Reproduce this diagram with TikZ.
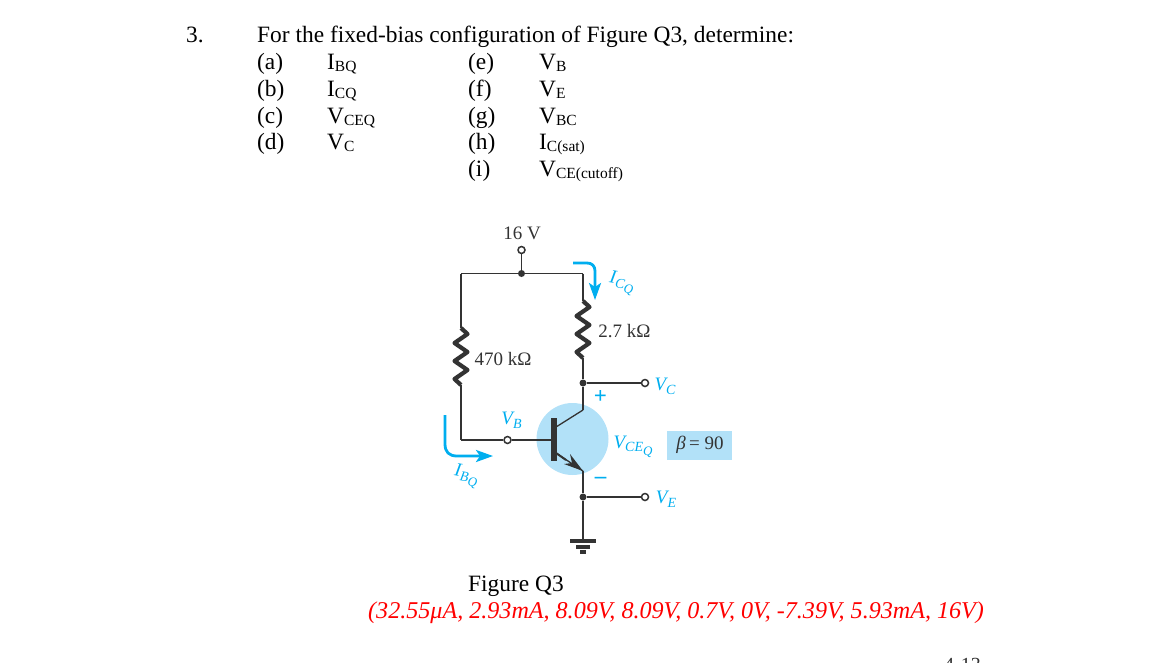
\documentclass[tikz,border=0pt]{standalone}
\usepackage{fontspec}
\setmainfont{Liberation Serif}
\usetikzlibrary{arrows.meta}
\definecolor{wirecol}{HTML}{333333}
\definecolor{cyancol}{HTML}{00AEEF}
\definecolor{tintcol}{HTML}{B2E1F8}
\newcommand{\bigsub}[2]{{\fontsize{23.4}{26}\selectfont #1\raisebox{-2.4pt}{\fontsize{15.5}{17}\selectfont #2}}}
\newcommand{\lblsub}[2]{\textit{#1\raisebox{-3.5pt}{\fontsize{14}{16}\selectfont #2}}}
\newcommand{\lblsubsub}[3]{\textit{#1\raisebox{-3.5pt}{\fontsize{14}{16}\selectfont #2\raisebox{-3.5pt}{\fontsize{13}{15}\selectfont #3}}}}
\tikzset{
  wire/.style={draw=wirecol,line width=1.3pt},
  resline/.style={draw=wirecol,line width=4.2pt,line join=round},
  basebar/.style={fill=wirecol,draw=none},
  dotnode/.style={circle,fill=wirecol,inner sep=0pt,minimum size=7pt},
  termnode/.style={circle,draw=wirecol,fill=white,line width=1.5pt,inner sep=0pt,minimum size=7pt},
  hwtext/.style={anchor=base west,inner sep=0pt,font=\fontsize{23.4}{26}\selectfont},
  circtext/.style={inner sep=0pt,text=wirecol,font=\fontsize{19}{21}\selectfont},
  bluetext/.style={inner sep=0pt,text=cyancol,font=\fontsize{19}{21}\selectfont},
  curarrow/.style={draw=cyancol,line width=2.8pt,-{Stealth[length=17pt,width=12pt,inset=4pt]}}
}
\begin{document}
\begin{tikzpicture}[x=1pt,y=-1pt]
  \useasboundingbox (0,0) rectangle (1170,662);
  \node[hwtext] (qnum) at (186,42) {3.};
  \node[hwtext] (qhead) at (257,42) {For the fixed-bias configuration of Figure Q3, determine:};
  \node[hwtext] (parta) at (257,69.5) {(a)};
  \node[hwtext] (partb) at (257,96.5) {(b)};
  \node[hwtext] (partc) at (257,123.5) {(c)};
  \node[hwtext] (partd) at (257,149.5) {(d)};
  \node[hwtext] (vala) at (327,69.5) {\bigsub{I}{BQ}};
  \node[hwtext] (valb) at (327,96.5) {\bigsub{I}{CQ}};
  \node[hwtext] (valc) at (327,123.5) {\bigsub{V}{CEQ}};
  \node[hwtext] (vald) at (327,149.5) {\bigsub{V}{C}};
  \node[hwtext] (parte) at (468,69.5) {(e)};
  \node[hwtext] (partf) at (468,96.5) {(f)};
  \node[hwtext] (partg) at (468,123.5) {(g)};
  \node[hwtext] (parth) at (468,149.5) {(h)};
  \node[hwtext] (parti) at (468,176.5) {(i)};
  \node[hwtext] (vale) at (539,69.5) {\bigsub{V}{B}};
  \node[hwtext] (valf) at (539,96.5) {\bigsub{V}{E}};
  \node[hwtext] (valg) at (539,123.5) {\bigsub{V}{BC}};
  \node[hwtext] (valh) at (539,149.5) {\bigsub{I}{C(sat)}};
  \node[hwtext] (vali) at (539,176.5) {\bigsub{V}{CE(cutoff)}};

  \node[circle,fill=tintcol,minimum size=72pt,inner sep=0pt] (tcircle) at (572.5,439) {};
  \node[fill=tintcol,minimum width=65pt,minimum height=29pt,inner sep=0pt] (betabox) at (699.5,445.5) {};

  \node[termnode] (vcc) at (521.5,250) {};
  \node[dotnode] (jtop) at (521.5,273.5) {};
  \coordinate (tleft) at (461,273.5);
  \coordinate (tright) at (583,273.5);
  \coordinate (rbtop) at (461,328);
  \coordinate (rbbot) at (461,385);
  \coordinate (rctop) at (583,301);
  \coordinate (rcbot) at (583,358);
  \node[dotnode] (jc) at (583,383) {};
  \node[termnode] (vcterm) at (645,383) {};
  \coordinate (bcorner) at (461,440);
  \node[termnode] (vbterm) at (507.5,440) {};
  \coordinate (bbar) at (553,440);
  \coordinate (cin) at (556,427);
  \coordinate (cout) at (583,410);
  \coordinate (ein) at (556,453);
  \coordinate (eout) at (583,471);
  \node[dotnode] (je) at (583,497) {};
  \node[termnode] (veterm) at (645,497) {};
  \coordinate (gnd) at (583,539);

  \path[wire] (vcc) -- (jtop);
  \path[wire] (tleft) -- (tright);
  \path[wire] (tleft) -- (rbtop);
  \path[wire] (tright) -- (rctop);
  \path[wire] (rcbot) -- (jc);
  \path[wire] (jc) -- (vcterm);
  \path[wire] (jc) -- (cout);
  \path[wire] (cout) -- (cin);
  \path[wire] (rbbot) -- (bcorner);
  \path[wire] (bcorner) -- (vbterm);
  \path[wire] (vbterm) -- (bbar);
  \path[wire] (ein) -- (eout);
  \path[wire] (eout) -- (je);
  \path[wire] (je) -- (veterm);
  \path[wire] (je) -- (gnd);

  \path[resline] (rbtop) -- ++(6.5,6) -- ++(-13,9) -- ++(13,9) -- ++(-13,9) -- ++(13,9) -- ++(-13,9) -- (rbbot);
  \path[resline] (rctop) -- ++(6.5,6) -- ++(-13,9) -- ++(13,9) -- ++(-13,9) -- ++(13,9) -- ++(-13,9) -- (rcbot);

  \fill[basebar] (551,418) rectangle (557,461);
  \path[wire,line width=2pt] (ein) -- (566,460);
  \fill[wirecol] (eout) -- (570,454) -- (572,463) -- (564,464) -- cycle;

  \fill[wirecol] (570,538.5) rectangle (596,542.5);
  \fill[wirecol] (576,544.5) rectangle (590,548.5);
  \fill[wirecol] (580,550) rectangle (586,554);

  \coordinate (ibstart) at (445,415);
  \coordinate (ibend) at (493,456);
  \coordinate (icstart) at (573,263);
  \coordinate (icend) at (595,300);
  \path[curarrow] (ibstart) -- (445,444) .. controls (445,452) and (449,456) .. (457,456) -- (ibend);
  \path[curarrow] (icstart) -- (587,263) .. controls (592,263) and (595,266) .. (595,271) -- (icend);

  \node[circtext] (lblvcc) at (522,233.5) {16 V};
  \node[circtext] (lblrc) at (624.5,331) {2.7 kΩ};
  \node[circtext] (lblrb) at (503,359) {470 kΩ};
  \node[circtext] (lblbeta) at (700,445) {\textit{β}\,= 90};
  \node[bluetext] (lblicq) at (621.5,283) [rotate=-10] {\lblsubsub{I}{C}{Q}};
  \node[bluetext] (lblibq) at (466,476) [rotate=-10] {\lblsubsub{I}{B}{Q}};
  \node[bluetext] (lblvc) at (665,386.5) {\lblsub{V}{C}};
  \node[bluetext] (lblve) at (666,499.5) {\lblsub{V}{E}};
  \node[bluetext] (lblvb) at (511.5,420.5) {\lblsub{V}{B}};
  \node[bluetext] (lblvce) at (633,446.5) {\lblsubsub{V}{CE}{Q}};
  \node[bluetext,font=\bfseries\fontsize{23}{24}\selectfont] (lblplus) at (600.5,397) {+};
  \node[bluetext,font=\bfseries\fontsize{23}{24}\selectfont] (lblminus) at (600.5,480) {–};

  \node[hwtext] (figcap) at (468,591) {Figure Q3};
  \node[hwtext,text=red,font=\itshape\fontsize{24.1}{26}\selectfont] (answers) at (368,618) {(32.55μA, 2.93mA, 8.09V, 8.09V, 0.7V, 0V, -7.39V, 5.93mA, 16V)};
  \node[anchor=base east,inner sep=0pt,text=wirecol,font=\fontsize{20}{22}\selectfont] (pageno) at (981,671.5) {4-13};
\end{tikzpicture}
\end{document}
